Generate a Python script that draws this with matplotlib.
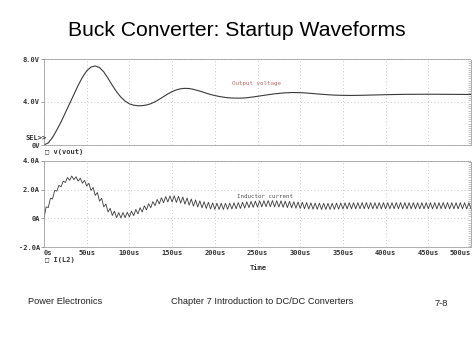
import numpy as np
import matplotlib
matplotlib.use("Agg")
import matplotlib.pyplot as plt
from matplotlib.ticker import MultipleLocator

# ---- data ----
# output voltage (V) vs time (us)
v_time = [0, 5, 10, 15, 20, 25, 30, 35, 40, 45, 50, 55, 60, 65, 70, 75, 80, 85, 90, 95,
          100, 105, 110, 115, 120, 125, 130, 135, 140, 145, 150, 155, 160, 165, 170, 175,
          180, 185, 190, 195, 200, 205, 210, 215, 220, 225, 230, 235, 240, 245, 250, 260,
          270, 280, 290, 300, 310, 320, 330, 340, 350, 360, 370, 380, 390, 400, 420, 440,
          460, 480, 500]
v_out = [0.0, 0.2, 0.7, 1.4, 2.15, 3.0, 3.85, 4.7, 5.55, 6.3, 6.9, 7.25, 7.35, 7.2, 6.8,
         6.2, 5.55, 4.95, 4.45, 4.08, 3.83, 3.7, 3.65, 3.66, 3.72, 3.84, 4.02, 4.25, 4.5,
         4.75, 4.97, 5.13, 5.23, 5.27, 5.25, 5.18, 5.07, 4.95, 4.82, 4.7, 4.6, 4.52, 4.45,
         4.4, 4.37, 4.36, 4.36, 4.38, 4.42, 4.47, 4.53, 4.65, 4.76, 4.84, 4.88, 4.87, 4.82,
         4.75, 4.69, 4.64, 4.62, 4.61, 4.62, 4.64, 4.66, 4.68, 4.71, 4.72, 4.72, 4.71, 4.7]

# inductor current (A): valleys at 0, 5, 10 ... 500 us, peaks half a period later
switch_period = 5.0
i_valley = [0.0, 0.75, 1.35, 1.9, 2.2, 2.5, 2.65, 2.7, 2.6, 2.45,
            2.25, 1.95, 1.6, 1.2, 0.8, 0.45, 0.2, 0.05, 0.03, 0.05,
            0.1, 0.19, 0.31, 0.44, 0.59, 0.74, 0.89, 1.01, 1.09, 1.14,
            1.14, 1.11, 1.06, 0.99, 0.92, 0.85, 0.79, 0.73, 0.69, 0.65,
            0.63, 0.62, 0.62, 0.63, 0.65, 0.67, 0.69, 0.72, 0.75, 0.77,
            0.79, 0.8, 0.81, 0.81, 0.8, 0.79, 0.77, 0.75, 0.73, 0.71,
            0.69, 0.67, 0.65, 0.64, 0.63, 0.62, 0.62, 0.62, 0.63, 0.64,
            0.65, 0.66, 0.66, 0.66, 0.67, 0.67, 0.66, 0.66, 0.66, 0.66,
            0.66, 0.66, 0.67, 0.67, 0.66, 0.66, 0.66, 0.66, 0.66, 0.66,
            0.66, 0.66, 0.66, 0.67, 0.67, 0.66, 0.66, 0.66, 0.66, 0.66,
            0.66]
i_peak = [0.8, 1.4, 1.95, 2.3, 2.6, 2.85, 2.95, 2.9, 2.8, 2.65,
          2.45, 2.15, 1.8, 1.4, 1.0, 0.7, 0.5, 0.4, 0.4, 0.42,
          0.5, 0.62, 0.74, 0.87, 1.02, 1.17, 1.32, 1.44, 1.52, 1.57,
          1.57, 1.54, 1.49, 1.42, 1.35, 1.28, 1.22, 1.16, 1.12, 1.08,
          1.06, 1.05, 1.05, 1.06, 1.08, 1.1, 1.12, 1.15, 1.18, 1.2,
          1.22, 1.23, 1.24, 1.24, 1.23, 1.22, 1.2, 1.18, 1.16, 1.14,
          1.12, 1.1, 1.08, 1.07, 1.06, 1.05, 1.05, 1.05, 1.06, 1.07,
          1.08, 1.09, 1.09, 1.09, 1.1, 1.1, 1.09, 1.09, 1.09, 1.09,
          1.09, 1.09, 1.1, 1.1, 1.09, 1.09, 1.09, 1.09, 1.09, 1.09,
          1.09, 1.09, 1.09, 1.1, 1.1, 1.09, 1.09, 1.09, 1.09, 1.09]

x_ticks = [0, 50, 100, 150, 200, 250, 300, 350, 400, 450, 500]
x_labels = ["0s", "50us", "100us", "150us", "200us", "250us",
            "300us", "350us", "400us", "450us", "500us"]
v_ticks = [0, 4, 8]
v_labels = ["0V", "4.0V", "8.0V"]
i_ticks = [-2, 0, 2, 4]
i_labels = ["-2.0A", "0A", "2.0A", "4.0A"]

# build the zig-zag in time order
i_time, i_vals = [], []
for k in range(len(i_peak)):
    i_time += [k * switch_period, k * switch_period + switch_period / 2]
    i_vals += [i_valley[k], i_peak[k]]
i_time.append(len(i_peak) * switch_period)
i_vals.append(i_valley[-1])

# ---- figure ----
W, H = 474, 355
fig = plt.figure(figsize=(W / 100, H / 100), dpi=100)

mono = dict(family="DejaVu Sans Mono", fontweight="bold", fontsize=5, color="#333333")
line_c = "#3a3a3a"
grid_c = "#b8b8b8"


def style_axes(ax, yticks, ylabels, ylim, minor_y):
    ax.set_xlim(0, 500)
    ax.set_ylim(*ylim)
    for s in ax.spines.values():
        s.set_linestyle((0, (1, 1.2)))
        s.set_color("#999999")
        s.set_linewidth(0.6)
    ax.set_yticks(yticks)
    ax.set_yticklabels(ylabels, **mono)
    ax.yaxis.set_minor_locator(MultipleLocator(minor_y))
    ax.tick_params(axis="y", which="major", length=2, width=0.5, color="#777777", pad=1)
    ax.tick_params(axis="y", which="minor", right=True, left=False, direction="in",
                   length=2.5, width=0.4, color="#999999")
    ax.set_xticks(x_ticks)
    ax.tick_params(axis="x", length=0, pad=2)
    ax.grid(True, which="major", color=grid_c, linestyle=(0, (1, 3)), linewidth=0.6)
    ax.set_facecolor("white")


ax1 = fig.add_axes([44 / W, 1 - 145 / H, 427 / W, 86 / H])
ax1.plot(v_time, v_out, color=line_c, linewidth=0.8)
style_axes(ax1, v_ticks, v_labels, (0, 8), 0.2)
ax1.set_xticklabels([])
ax1.text(232 / W, 1 - 84 / H, "Output voltage", transform=fig.transFigure,
         family="DejaVu Sans Mono", fontsize=4.2, color="#d06a6a", va="center")

ax2 = fig.add_axes([44 / W, 1 - 247 / H, 427 / W, 86 / H])
ax2.plot(i_time, i_vals, color=line_c, linewidth=0.6)
style_axes(ax2, i_ticks, i_labels, (-2, 4), 0.15)
ax2.set_xticklabels(x_labels, **mono)
xt = ax2.get_xticklabels()
xt[0].set_ha("left")
xt[-1].set_ha("right")
ax2.text(237 / W, 1 - 197 / H, "Inductor current", transform=fig.transFigure,
         family="DejaVu Sans Mono", fontsize=4.2, color="#555555", va="center")

# probe style annotations
fig.text(25 / W, 1 - 138 / H, "SEL>>", va="center", ha="left", **mono)
fig.text(45 / W, 1 - 152 / H, "\u25a1 v(vout)", va="center", ha="left", **mono)
fig.text(45 / W, 1 - 260 / H, "\u25a1 I(L2)", va="center", ha="left", **mono)
fig.text(258 / W, 1 - 268 / H, "Time", va="center", ha="center", **mono)

# slide title and footer
fig.text(0.5, 1 - 31 / H, "Buck Converter: Startup Waveforms", ha="center", va="center",
         family="Liberation Sans", fontsize=15.2, color="black")
fig.text(28 / W, 1 - 301 / H, "Power Electronics", ha="left", va="center",
         family="Liberation Sans", fontsize=6.7, color="#222222")
fig.text(262 / W, 1 - 302 / H, "Chapter 7 Introduction to DC/DC Converters", ha="center",
         va="center", family="Liberation Sans", fontsize=6.7, color="#222222")
fig.text(441 / W, 1 - 304 / H, "7-8", ha="center", va="center",
         family="Liberation Sans", fontsize=6.7, color="#222222")

fig.savefig("out.png", dpi=100, facecolor="white")
